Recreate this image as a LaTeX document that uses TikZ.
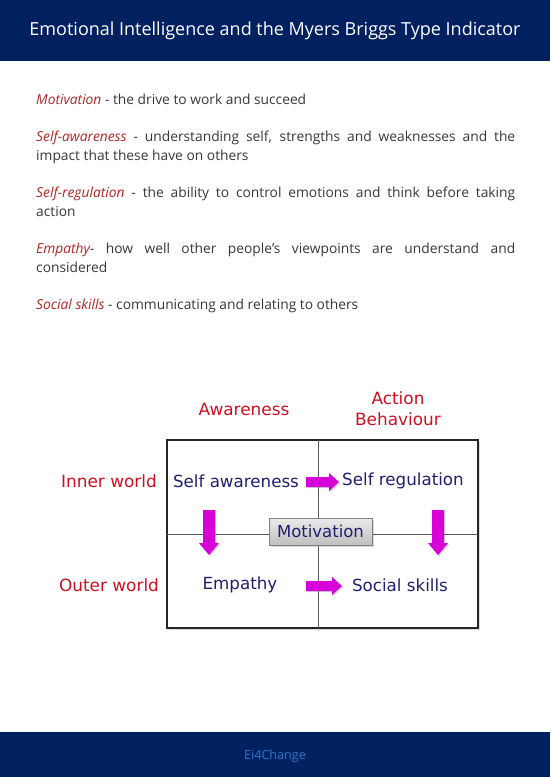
\documentclass[tikz,border=0pt]{standalone}
\usepackage{fontspec}
\setmainfont{Open Sans}
\newfontfamily\verd{DejaVu Sans}
\usetikzlibrary{shadows}
\hyphenpenalty=10000
\exhyphenpenalty=10000
\definecolor{band}{RGB}{0,32,96}
\definecolor{termred}{RGB}{176,36,36}
\definecolor{bodygray}{RGB}{55,55,55}
\definecolor{lblred}{RGB}{204,16,32}
\definecolor{lblnavy}{RGB}{34,30,110}
\definecolor{arrmag}{RGB}{216,0,216}
\definecolor{footblue}{RGB}{40,120,200}
\tikzset{
  para/.style={anchor=base west, inner sep=0pt, text width=479pt, align=justify,
    font=\fontsize{13.8}{19}\selectfont, text=bodygray},
  lbl/.style={inner sep=0pt, font=\verd\fontsize{16.9}{21}\selectfont, text=lblred, align=center},
  cell/.style={inner sep=0pt, font=\verd\fontsize{16.7}{21}\selectfont, text=lblnavy},
  blockarrow/.style={fill=arrmag, drop shadow={shadow xshift=1.2pt, shadow yshift=-1.2pt, opacity=.35}},
}
\newcommand{\term}[1]{\textcolor{termred}{\itshape #1}}
\begin{document}
\begin{tikzpicture}[x=1pt,y=-1pt]
\useasboundingbox (0,0) rectangle (550,777);
% header
\fill[band] (0,0) rectangle (550,61);
\node[text=white, font=\fontsize{18}{20}\selectfont, inner sep=0pt] (title) at (275,31) {Emotional Intelligence and the Myers Briggs Type Indicator};
% footer
\fill[band] (0,732) rectangle (550,777);
\node[text=footblue, font=\fontsize{12.6}{14}\selectfont, inner sep=0pt] (foot) at (275,756) {Ei4Change};
% paragraphs
\node[para] (p1) at (36,104) {\term{Motivation} - the drive to work and succeed};
\node[para] (p2) at (36,141) {\term{Self-awareness} - understanding self, strengths and weaknesses and the\linebreak impact that these have on others};
\node[para] (p3) at (36,197) {\term{Self-regulation} - the ability to control emotions and think before taking\linebreak action};
\node[para] (p4) at (36,253) {\term{Empathy}- how well other people’s viewpoints are understand and\linebreak considered};
\node[para] (p5) at (36,309) {\term{Social skills} - communicating and relating to others};
% diagram frame
\node[draw=black!85, line width=1.6pt, fill=white, minimum width=311pt, minimum height=188pt, inner sep=0pt,
  drop shadow={shadow xshift=2pt, shadow yshift=-2pt, opacity=.3}] (grid) at (322.2,534) {};
\coordinate (vt) at (318,440);
\coordinate (vb) at (318,628);
\coordinate (hl) at (166.7,534);
\coordinate (hr) at (477.7,534);
\draw[black!65, line width=0.6pt] (vt) -- (vb);
\draw[black!65, line width=0.6pt] (hl) -- (hr);
% headings
\node[lbl] (aw) at (244,409) {Awareness};
\node[lbl] (ab) at (398,409) {Action\\Behaviour};
\node[lbl] (iw) at (109,481) {Inner world};
\node[lbl] (ow) at (109,585) {Outer world};
% cells
\node[cell] (sa) at (236,481) {Self awareness};
\node[cell] (sr) at (403,481) {Self regulation};
\node[cell] (em) at (240,585) {Empathy};
\node[cell] (ss) at (400,585) {Social skills};
% arrows
\fill[blockarrow] (306,477) -- (329,477) -- (329,473) -- (339,482) -- (329,491) -- (329,487) -- (306,487) -- cycle;
\fill[blockarrow] (306,581) -- (332,581) -- (332,577) -- (342,586) -- (332,595) -- (332,591) -- (306,591) -- cycle;
\fill[blockarrow] (203,510) -- (215,510) -- (215,543) -- (219,543) -- (209,555) -- (199,543) -- (203,543) -- cycle;
\fill[blockarrow] (432,510) -- (444,510) -- (444,543) -- (448,543) -- (438,555) -- (428,543) -- (432,543) -- cycle;
% motivation box
\node[draw=black!50, line width=0.6pt, top color=white!92!black, bottom color=black!25, minimum width=103pt, minimum height=27pt, inner sep=0pt,
  font=\verd\fontsize{16.5}{18}\selectfont, text=lblnavy,
  drop shadow={shadow xshift=1.5pt, shadow yshift=-1.5pt, opacity=.3}] (mot) at (320.5,531.5) {Motivation};
\end{tikzpicture}
\end{document}
